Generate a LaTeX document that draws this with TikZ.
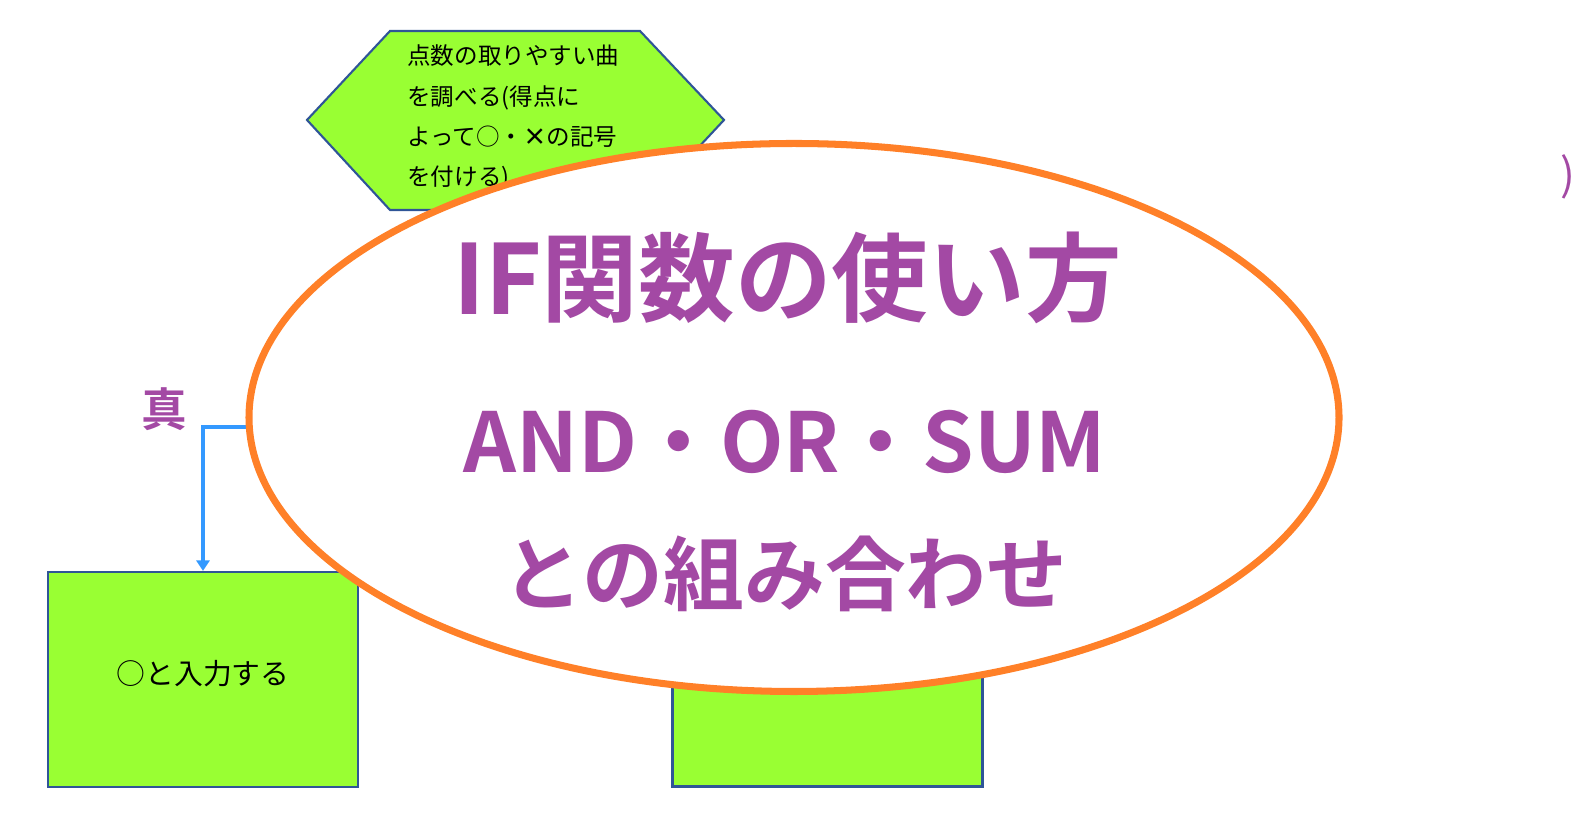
\documentclass[tikz,border=0pt]{standalone}
\usepackage{fontspec}
\usetikzlibrary{shapes.geometric,arrows.meta}
\setmainfont{Noto Sans CJK JP}[BoldFont={Noto Sans CJK JP Bold}]
\definecolor{boxgreen}{HTML}{99FF33}
\definecolor{boxline}{HTML}{2F5597}
\definecolor{ovalorange}{HTML}{FF8028}
\definecolor{ttlpurple}{HTML}{A349A4}
\definecolor{arrowblue}{HTML}{3399FF}
\tikzset{
    box/.style={rectangle, draw=boxline, line width=1.2pt, fill=boxgreen,
        minimum width=6.2cm, minimum height=4.3cm, font=\fontsize{16.4}{19}\selectfont},
    hexa/.style={draw=boxline, line width=1.2pt, fill=boxgreen},
    small/.style={align=left, anchor=west, inner sep=0pt, font=\fontsize{13.4}{22.8}\selectfont},
    oval/.style={ellipse, draw=ovalorange, line width=4pt, fill=white,
        minimum width=21.8cm, minimum height=10.96cm},
    ttl/.style={text=ttlpurple, anchor=base, inner sep=0pt},
    yes/.style={-{Triangle[width=7.5pt,length=6pt]}, draw=arrowblue, line width=2.4pt}
}
\begin{document}
\begin{tikzpicture}
\useasboundingbox (0,0) rectangle (31.9,16.38);

\draw[hexa] (6.14,13.98) -- (7.8,15.76) -- (12.8,15.76) -- (14.48,13.98)
    -- (12.8,12.18) -- (7.8,12.18) -- cycle;
\node[small] at (8.14,14.03) (sort) {点数の取りやすい曲\\を調べる(得点に\\よって○・{\bfseries ×}の記号\\を付ける)};

\node[box] at (4.06,2.79) (okbox) {\raisebox{0.28cm}{○と入力する}};
\node[box] at (16.55,2.8) (ngbox) {};
\coordinate (cond) at (6.6,7.84);
\draw[yes] (cond) -| (okbox.north);
\node[ttl, anchor=center, font=\bfseries\fontsize{26}{30}\selectfont] at (3.28,8.2) (yeslbl) {真};

\node[oval] at (15.88,8.03) (head) {};
\node[ttl, font=\bfseries\fontsize{55}{60}\selectfont] at (15.75,10.09) (line1) {IF関数の使い方};
\node[ttl, font=\bfseries\fontsize{47}{52}\selectfont] at (15.7,6.93) (line2) {AND・OR・SUM};
\node[ttl, font=\bfseries\fontsize{46}{52}\selectfont] at (15.7,4.28) (line3) {との組み合わせ};

\node[ttl, anchor=center, font=\fontsize{25}{28}\selectfont] at (31.36,12.84) (paren) {)};
\end{tikzpicture}
\end{document}
